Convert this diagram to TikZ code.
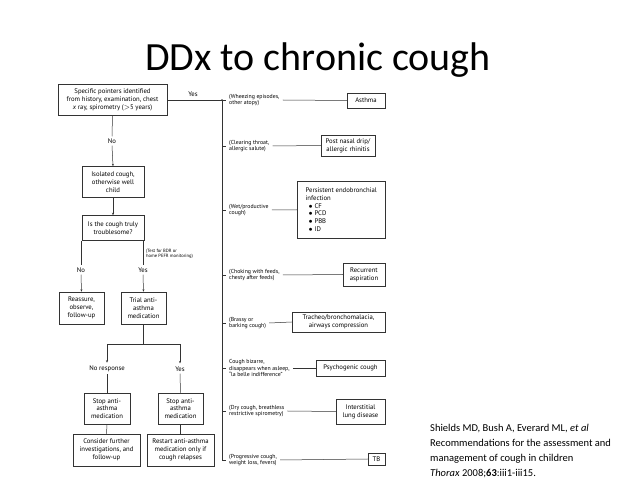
\documentclass[tikz,border=0pt]{standalone}
\usepackage{fontspec}
\setmainfont{Carlito}
\newfontfamily\diag{PT Sans}
\usetikzlibrary{arrows.meta}
\begin{document}
\begin{tikzpicture}[x=1pt,y=-1pt,
  box/.style={draw=black!80,line width=0.5pt,align=center,inner sep=1pt,font=\diag\fontsize{6.7}{7.8}\selectfont},
  lbl/.style={align=left,inner sep=0pt,font=\diag\fontsize{5.8}{6.6}\selectfont},
  txt/.style={inner sep=0pt,font=\diag\fontsize{6.7}{7.8}\selectfont},
  ln/.style={draw=black!80,line width=0.5pt},
  arr/.style={ln,-{Stealth[length=2.5pt,width=2pt]}}]
\useasboundingbox (0,0) rectangle (638,478);
\node[font=\fontsize{40}{44}\selectfont,inner sep=0pt] (title) at (318,60) {DDx to chronic cough};
% left flow
\node[box,minimum width=109,minimum height=31] (top) at (112.5,100) {Specific pointers identified\\from history, examination, chest\\\textit{x} ray, spirometry ($>$5 years)};
\node[box,minimum width=62,minimum height=31] (iso) at (113,182) {Isolated cough,\\otherwise well\\child};
\node[box,minimum width=62,minimum height=25] (true) at (113,228) {Is the cough truly\\troublesome?};
\node[txt] (no1) at (112,141) {No};
\draw[ln] (top.south) -- ([yshift=2pt]no1.north);
\draw[arr] ([yshift=-2pt]no1.south) -- (iso.north);
\draw[arr] (iso.south) -- (true.north);
\node[txt] (no2) at (81,270) {No};
\node[txt] (yes2) at (143,270) {Yes};
\node[lbl,anchor=north west,font=\diag\fontsize{4.6}{5.4}\selectfont] (bdr) at (146,249) {(Test for BDR or\\home PEFR monitoring)};
\node[box,minimum width=45,minimum height=32] (reas) at (81.5,308) {Reassure,\\observe,\\follow-up};
\node[box,minimum width=45,minimum height=32] (trial) at (143.5,308) {Trial anti-\\asthma\\medication};
\draw[ln] (true.south -| no2) -- ([yshift=2pt]no2.north);
\draw[ln] (true.south -| yes2) -- ([yshift=2pt]yes2.north);
\draw[arr] ([yshift=-2pt]no2.south) -- (reas.north);
\draw[arr] ([yshift=-2pt]yes2.south) -- (trial.north);
\coordinate (split) at (143.5,344);
\node[txt] (nor) at (107,369) {No response};
\node[txt] (yes3) at (180,369) {Yes};
\draw[ln] (trial.south) -- (split);
\draw[arr] (split) -- (107,344) -- ([yshift=3pt]nor.north);
\draw[arr] (split) -- (180,344) -- ([yshift=3pt]yes3.north);
\node[box,minimum width=46,minimum height=31] (stop1) at (107,408.5) {Stop anti-\\asthma\\medication};
\node[box,minimum width=45,minimum height=31] (stop2) at (180.5,408.5) {Stop anti-\\asthma\\medication};
\draw[ln] ([yshift=-2pt]nor.south) -- (stop1.north);
\draw[ln] ([yshift=-2pt]yes3.south) -- (stop2.north);
\node[box,minimum width=67,minimum height=32] (cons) at (106.5,450) {Consider further\\investigations, and\\follow-up};
\node[box,minimum width=67,minimum height=32] (rest) at (180.5,450) {Restart anti-asthma\\medication only if\\cough relapses};
\draw[ln] (stop1.south) -- (cons.north);
\draw[ln] (stop2.south) -- (rest.north);
% spine
\coordinate (s0) at (222,100);
\coordinate (s1) at (222,461);
\node[txt] (yes1) at (193,94) {Yes};
\draw[ln] (top.east) -- (s0);
\fill[black!80] (s0) circle (0.9);
\draw[ln] (s0) -- (s1);
% branches
\foreach \y in {100,146,210,275,323,368,411,460}{\draw[ln] (222,\y) -- (226,\y);}
\node[lbl,anchor=west] (la) at (229,100) {(Wheezing episodes,\\other atopy)};
\node[lbl,anchor=west] (lb) at (229,146) {(Clearing throat,\\allergic salute)};
\node[lbl,anchor=west] (lc) at (229,210) {(Wet/productive\\cough)};
\node[lbl,anchor=west] (ld) at (229,275) {(Choking with feeds,\\chesty after feeds)};
\node[lbl,anchor=west] (le) at (229,323) {(Brassy or\\barking cough)};
\node[lbl,anchor=west] (lf) at (229,368) {Cough bizarre,\\disappears when asleep,\\“la belle indifference”};
\node[lbl,anchor=west] (lg) at (229,411) {(Dry cough, breathless\\restrictive spirometry)};
\node[lbl,anchor=west] (lh) at (229,460) {(Progressive cough,\\weight loss, fevers)};
\node[box,minimum width=38,minimum height=15] (ba) at (366,100.5) {Asthma};
\node[box,minimum width=54,minimum height=21] (bb) at (348,145.5) {Post nasal drip/\\allergic rhinitis};
\node[box,minimum width=88,minimum height=57,align=left,anchor=north west] (bc) at (297,181) {Persistent endobronchial\\infection\\\hspace*{3pt}$\bullet$ CF\\\hspace*{3pt}$\bullet$ PCD\\\hspace*{3pt}$\bullet$ PBB\\\hspace*{3pt}$\bullet$ ID};
\node[box,minimum width=42,minimum height=23] (bd) at (364,274.5) {Recurrent\\aspiration};
\node[box,minimum width=93,minimum height=20] (be) at (338.5,322) {Tracheo/bronchomalacia,\\airways compression};
\node[box,minimum width=69,minimum height=16] (bf) at (350.5,368) {Psychogenic cough};
\node[box,minimum width=49,minimum height=25] (bg) at (360.5,411.5) {Interstitial\\lung disease};
\node[box,minimum width=17,minimum height=12] (bh) at (376.5,459) {TB};
\draw[ln] (la.east) ++(3,0) -- (ba.west);
\draw[ln] (lb.east) ++(3,0) -- (bb.west);
\draw[ln] (lc.east) ++(3,0) -- (bc.west);
\draw[ln] (ld.east) ++(3,0) -- (bd.west);
\draw[ln] (le.east) ++(3,0) -- (be.west);
\draw[ln] (lf.east) ++(3,0) -- (bf.west);
\draw[ln] (lg.east) ++(3,0) -- (bg.west);
\draw[ln] (lh.east) ++(3,0) -- (bh.west);
% citation
\node[anchor=north west,align=left,inner sep=0pt,font=\fontsize{10.5}{15}\selectfont] (cite) at (430,424) {Shields MD, Bush A, Everard ML, \textit{et al}\\Recommendations for the assessment and\\management of cough in children\\\textit{Thorax} 2008;\textbf{63}:iii1-iii15.};
\end{tikzpicture}
\end{document}
